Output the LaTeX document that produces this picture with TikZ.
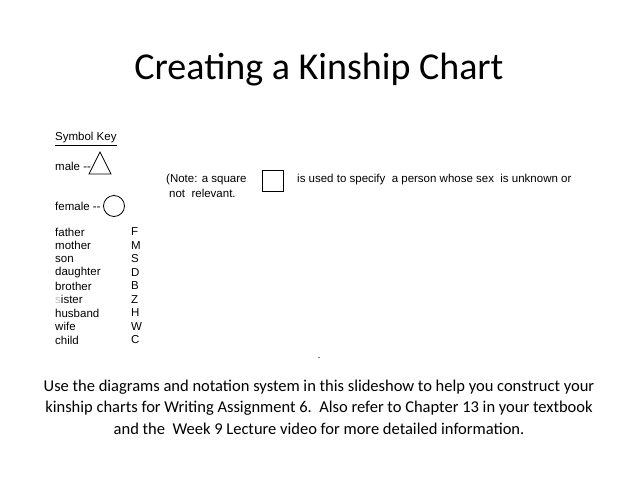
\documentclass[tikz,border=0pt]{standalone}
\usepackage{fontspec}
\setmainfont{Carlito}
\newfontfamily\arial{Liberation Sans}
\begin{document}
\begin{tikzpicture}[x=1pt,y=-1pt,
  key/.style={font=\arial\fontsize{11.5}{13.5}\selectfont,anchor=west,inner sep=0pt},
  shp/.style={draw,line width=0.8pt}]
\useasboundingbox[fill=white] (0,0) rectangle (638,478);
\node[font=\fontsize{38}{44}\selectfont] (title) at (319,70) {Creating a Kinship Chart};
\node[key] (sk) at (55,139) {\underline{Symbol Key}};
\node[key] (male) at (55,166) {male --};
\draw[shp] (89,174) -- (100,152) -- (111,174) -- cycle;
\node[key] (female) at (55,206) {female --};
\node[shp,circle,minimum size=21pt,inner sep=0pt] (fc) at (114,206) {};
\foreach \w/\l [count=\i from 0] in {father/F,mother/M,son/S,daughter/D,brother/B,{{\color{black!25}s}ister}/Z,husband/H,wife/W,child/C}{
  \node[key] (w\i) at (55,{232+13.5*\i}) {\w};
  \node[key] (l\i) at (131,{232+13.5*\i}) {\l};
}
\node[key] (note1) at (166,180) {(Note: a square};
\node[key] (note2) at (169,193) {not\ \ relevant.};
\node[shp,minimum size=21pt,inner sep=0pt] (sq) at (273,181) {};
\node[key] (note3) at (297,180) {is used to specify\ \ a person whose sex\ \ is unknown or};
\node[font=\fontsize{8}{8}\selectfont] (dash) at (319,359) {-};
\node[font=\fontsize{16.5}{21.5}\selectfont,align=center] (body) at (319,407) {Use the diagrams and notation system in this slideshow to help you construct your\\kinship charts for Writing Assignment 6.\ \ Also refer to Chapter 13 in your textbook\\and the\ \ Week 9 Lecture video for more detailed information.};
\end{tikzpicture}
\end{document}
